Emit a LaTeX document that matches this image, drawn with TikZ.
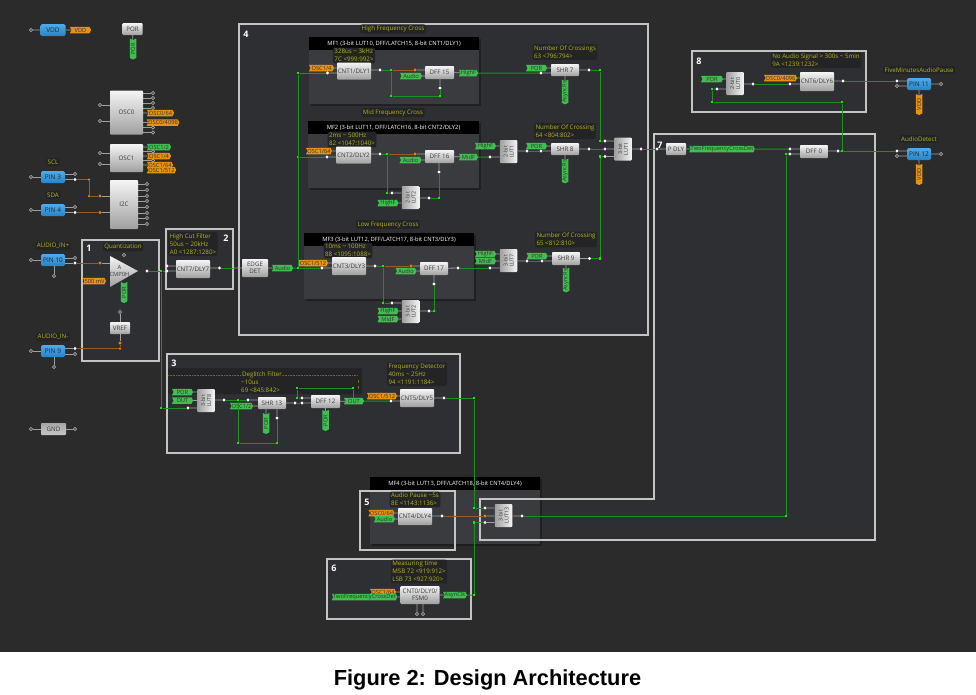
\documentclass[tikz,border=0pt]{standalone}
\usepackage{fontspec}
\setmainfont{Liberation Sans}
\newfontfamily\uifont{Open Sans}
\usetikzlibrary{shapes.symbols}
\definecolor{canvas}{HTML}{2B2B2C}
\definecolor{framefill}{HTML}{2E2F33}
\definecolor{framedraw}{HTML}{C4C4C4}
\definecolor{blockfill}{HTML}{3A3B3F}
\definecolor{notefill}{HTML}{242426}
\definecolor{notetext}{HTML}{B4B41E}
\definecolor{wiregreen}{HTML}{1A931A}
\definecolor{dotgreen}{HTML}{19E619}
\definecolor{wireorange}{HTML}{9A5A20}
\definecolor{dotorange}{HTML}{F08000}
\definecolor{taggreen}{HTML}{3FBF4F}
\definecolor{tagorange}{HTML}{E8920F}
\definecolor{pinblue}{HTML}{2E9BEA}
\definecolor{celltext}{HTML}{3C3C3C}

\begin{document}
\begin{tikzpicture}[x=1pt,y=-1pt]

    \tikzstyle{cell}+=[
        rectangle,
        rounded corners=0.8pt,
        top color=white!92!gray,
        bottom color=gray!75,
        text=celltext,
        font=\uifont\fontsize{6.2}{7}\selectfont,
        align=center,
        inner sep=0pt
    ]
    \tikzstyle{lutbox}+=[
        rectangle,
        rounded corners=0.8pt,
        right color=white!92!gray,
        left color=gray!75,
        text=celltext,
        font=\uifont\fontsize{5.4}{6}\selectfont,
        align=center,
        inner sep=0pt,
        rotate=90,
        minimum width=23,
        minimum height=17.5
    ]
    \tikzstyle{pinbox}+=[
        rectangle,
        rounded corners=1.5pt,
        top color=pinblue!85!white,
        bottom color=pinblue!85!black,
        text=black!85,
        font=\uifont\fontsize{6.5}{7}\selectfont,
        inner sep=0pt,
        minimum width=24,
        minimum height=12
    ]
    \tikzstyle{gtag}+=[
        signal,
        signal from=west,
        signal to=east,
        signal pointer angle=130,
        fill=taggreen,
        text=black!80,
        font=\uifont\fontsize{5.7}{6}\selectfont,
        inner sep=0pt,
        minimum height=6.5
    ]
    \tikzstyle{otag}+=[
        gtag,
        fill=tagorange
    ]
    \tikzstyle{vgtag}+=[
        gtag,
        signal from=east,
        signal to=west,
        rotate=90
    ]
    \tikzstyle{votag}+=[
        vgtag,
        fill=tagorange
    ]
    \tikzstyle{port}+=[
        circle,
        fill=white,
        inner sep=0pt,
        minimum size=3.2
    ]
    \tikzstyle{hport}+=[
        circle,
        draw=gray!70!white,
        line width=0.7pt,
        fill=canvas,
        inner sep=0pt,
        minimum size=3.2
    ]
    \tikzstyle{greendot}+=[
        rectangle,
        fill=dotgreen,
        inner sep=0pt,
        minimum size=2.6
    ]
    \tikzstyle{orangedot}+=[
        circle,
        fill=dotorange,
        inner sep=0pt,
        minimum size=3.2
    ]
    \tikzstyle{notebox}+=[
        rectangle,
        rounded corners=2pt,
        fill=notefill,
        text=notetext,
        font=\uifont\fontsize{6.2}{8}\selectfont,
        align=left,
        inner sep=1.5pt
    ]
    \tikzstyle{wire}+=[
        draw=wiregreen,
        line width=1pt
    ]
    \tikzstyle{owire}+=[
        draw=wireorange,
        line width=1pt
    ]
    \tikzstyle{stub}+=[
        draw=gray!75,
        line width=0.8pt
    ]
    \tikzstyle{framebox}+=[
        draw=framedraw,
        line width=1.4pt
    ]
    \tikzstyle{framenum}+=[
        text=white,
        font=\uifont\bfseries\fontsize{9}{10}\selectfont,
        inner sep=0pt
    ]
    \tikzstyle{block}+=[
        fill=blockfill
    ]
    \tikzstyle{blockshade}+=[
        fill=black,
        opacity=0.3
    ]
    \tikzstyle{blockhead}+=[
        rectangle,
        fill=black,
        text=white!80,
        font=\uifont\fontsize{5.8}{7}\selectfont,
        inner sep=0pt,
        minimum height=13
    ]

    % ----------------------------------------------------------------------------
    \path[fill=white] (0,0) rectangle (976,694);
    \path[fill=canvas] (0,0) rectangle (976,652);
    \node[font=\bfseries\fontsize{21.8}{26}\selectfont,text=black] (caption) at (487.5,680) {Figure 2: Design Architecture};

    % ----------------------------------------------------------------------------
    \path[fill=framefill] (82,240) rectangle (159,361);
    \path[fill=framefill] (166,229) rectangle (233,289);
    \path[fill=framefill] (167,354) rectangle (460,453);
    \path[fill=framefill] (239,24) rectangle (648,335);
    \path[fill=framefill] (327,559) rectangle (471,619);
    \path[fill=framefill] (692,51) rectangle (866,112);
    \path[fill=framefill] (654,134) -- (875,134) -- (875,540) -- (480,540) -- (480,499) -- (654,499) -- cycle;

    % ----------------------------------------------------------------------------
    \path[blockshade] (311,39) rectangle (481,106);
    \path[blockshade] (310,123) rectangle (481,190);
    \path[blockshade] (306,235) rectangle (476,301);
    \path[blockshade] (372,479) rectangle (542,546);
    \path[block] (309,37) rectangle (479,104);
    \path[block] (308,121) rectangle (479,188);
    \path[block] (304,233) rectangle (474,299);
    \path[block] (370,477) rectangle (540,544);
    \node[blockhead,minimum width=170] (headmfone) at (394,43.5) {MF1 (3-bit LUT10, DFF/LATCH15, 8-bit CNT1/DLY1)};
    \node[blockhead,minimum width=171] (headmftwo) at (393.5,127.5) {MF2 (3-bit LUT11, DFF/LATCH16, 8-bit CNT2/DLY2)};
    \node[blockhead,minimum width=170] (headmfthree) at (389,239.5) {MF3 (3-bit LUT12, DFF/LATCH17, 8-bit CNT3/DLY3)};
    \node[blockhead,minimum width=170] (headmffour) at (455,483.5) {MF4 (3-bit LUT13, DFF/LATCH18, 8-bit CNT4/DLY4)};

    % ----------------------------------------------------------------------------
    \draw[framebox] (82,240) rectangle (159,361);
    \draw[framebox] (166,229) rectangle (233,289);
    \draw[framebox] (167,354) rectangle (460,453);
    \draw[framebox] (239,24) rectangle (648,335);
    \draw[framebox] (360,491) rectangle (455,550);
    \draw[framebox] (327,559) rectangle (471,619);
    \draw[framebox] (692,51) rectangle (866,112);
    \draw[framebox] (654,134) -- (875,134) -- (875,540) -- (480,540) -- (480,499) -- (654,499) -- cycle;
    \node[framenum] (numone) at (89,248.5) {1};
    \node[framenum] (numtwo) at (226,238.5) {2};
    \node[framenum] (numthree) at (174,363.5) {3};
    \node[framenum] (numfour) at (246,34.5) {4};
    \node[framenum] (numfive) at (367,502) {5};
    \node[framenum] (numsix) at (334,568.5) {6};
    \node[framenum] (numseven) at (660,145) {7};
    \node[framenum] (numeight) at (699,61.5) {8};

    % ----------------------------------------------------------------------------
    \node[notebox] (notescl) at (53,162) {SCL};
    \node[notebox] (notesda) at (53,195) {SDA};
    \node[notebox] (noteinp) at (53,246) {AUDIO\_IN+};
    \node[notebox] (noteinm) at (53,337) {AUDIO\_IN-};
    \node[notebox] (notequant) at (123,247) {Quantization};
    \node[notebox] (notecut) at (193,244) {High Cut Filter\\50us \textasciitilde{} 20kHz\\A0 <1287:1280>};
    \node[notebox] (notehigh) at (393,29) {High Frequency Cross};
    \node[notebox] (notemid) at (393,112.5) {Mid Frequency Cross};
    \node[notebox] (notelow) at (388,224.5) {Low Frequency Cross};
    \node[notebox] (notemfone) at (354,55.5) {328us \textasciitilde{} 3kHz\\7C <999:992>};
    \node[notebox] (notemftwo) at (352,139.5) {2ms \textasciitilde{} 500Hz\\82 <1047:1040>};
    \node[notebox] (notemfthree) at (348,250.5) {10ms \textasciitilde{} 100Hz\\88 <1095:1088>};
    \node[notebox] (noteshrseven) at (565,52) {Number Of Crossings\\63 <796:794>};
    \node[notebox] (noteshreight) at (565,131) {Number Of Crossing\\64 <804:802>};
    \node[notebox] (noteshrnine) at (566,239.5) {Number Of Crossing\\65 <812:810>};
    \node[notebox] (noteeight) at (816,60) {No Audio Signal > 300s \textasciitilde{} 5min\\9A <1239:1232>};
    \node[notebox] (notefive) at (415,499.5) {Audio Pause \textasciitilde{}5s\\8E <1143:1136>};
    \node[notebox] (notesix) at (419,571.5) {Measuring time\\MSB 72 <919:912>\\LSB 73 <927:920>};
    \node[notebox] (notefreq) at (417,374) {Frequency Detector\\40ms \textasciitilde{} 25Hz\\94 <1191:1184>};
    \node[notebox] (notepause) at (919,70) {FiveMinutesAudioPause};
    \node[notebox] (noteaudio) at (919,139) {AudioDetect};
    \node[notebox,minimum width=194,minimum height=26] (notedeglitch) at (265,381) {};
    \draw[dashed,dash pattern=on 1pt off 0.6pt,notetext!60!black,line width=0.9pt] (168,375) -- (358,375);
    \draw[dashed,notetext!60!black,line width=0.9pt] (358,380) -- (358,392);
    \node[notebox,inner sep=0.5pt] (titledeglitch) at (262,374.5) {Deglitch Filter};
    \node[notebox,fill=none,anchor=north west] (textdeglitch) at (239.5,378) {\textasciitilde{}10us\\69 <845:842>};

    % ----------------------------------------------------------------------------
    \node[pinbox,minimum width=25] (pinvdd) at (53,30) {VDD};
    \node[hport] (vddin) at (31,30) {};
    \node[otag,minimum width=21] (tagvdd) at (80.5,30) {VDD};
    \draw[stub] (vddin) -- (pinvdd) (pinvdd) -- (tagvdd);
    \node[cell,minimum width=20,minimum height=12] (por) at (132.5,29) {POR};
    \node[vgtag,minimum width=21] (tagpor) at (133,49) {POR};
    \draw[stub] (por) -- (tagpor);

    \node[cell,minimum width=33,minimum height=44] (oscz) at (126.5,112.5) {OSC0};
    \node[hport] (osczina) at (100,105) {};
    \node[hport] (osczinb) at (100,121) {};
    \node[hport] (oscza) at (153,93) {};
    \node[hport] (osczb) at (153,98) {};
    \node[hport] (osczc) at (153,103) {};
    \node[hport] (osczd) at (153,108) {};
    \node[hport] (oscze) at (153,127.5) {};
    \node[hport] (osczf) at (153,132.5) {};
    \node[otag,minimum width=27] (tagoscza) at (160.5,113) {OSC0/64};
    \node[otag,minimum width=32] (tagosczb) at (163,122.5) {OSC0/4096};
    \draw[stub] (osczina) -- (osczina -| oscz.west) (osczinb) -- (osczinb -| oscz.west);
    \draw[stub] (oscza) -- (oscza -| oscz.east) (osczb) -- (osczb -| oscz.east) (osczc) -- (osczc -| oscz.east) (osczd) -- (osczd -| oscz.east) (oscze) -- (oscze -| oscz.east) (osczf) -- (osczf -| oscz.east);
    \draw[stub] (tagoscza) -- (tagoscza -| oscz.east) (tagosczb) -- (tagosczb -| oscz.east);

    \node[cell,minimum width=33,minimum height=28] (oscone) at (126.5,158) {OSC1};
    \node[hport] (osconeina) at (100,153) {};
    \node[hport] (osconeinb) at (100,164) {};
    \node[hport] (osconea) at (153,151.5) {};
    \node[hport] (osconeb) at (153,160.5) {};
    \node[gtag,minimum width=24] (tagosconea) at (159,147) {OSC1/2};
    \node[otag,minimum width=24] (tagosconeb) at (159,156) {OSC1/4};
    \node[otag,minimum width=26] (tagosconec) at (160,165) {OSC1/64};
    \node[otag,minimum width=29] (tagoscone) at (161.5,170) {OSC1/512};
    \draw[stub] (osconeina) -- (osconeina -| oscone.west) (osconeinb) -- (osconeinb -| oscone.west);
    \draw[stub] (osconea) -- (osconea -| oscone.east) (osconeb) -- (osconeb -| oscone.east);
    \draw[stub] (tagosconea) -- (tagosconea -| oscone.east) (tagosconeb) -- (tagosconeb -| oscone.east) (tagosconec) -- (tagosconec -| oscone.east);

    \node[cell,minimum width=28,minimum height=49] (itwoc) at (124,204.5) {I2C};
    \node[hport] (itwoca) at (147,184) {};
    \node[hport] (itwocb) at (147,190) {};
    \node[hport] (itwocc) at (147,196) {};
    \node[hport] (itwocd) at (147,201) {};
    \node[hport] (itwoce) at (147,207) {};
    \node[hport] (itwocf) at (147,213) {};
    \node[hport] (itwocg) at (147,218) {};
    \node[hport] (itwoch) at (147,224) {};
    \draw[stub] (itwoca) -- (itwoca -| itwoc.east) (itwocb) -- (itwocb -| itwoc.east) (itwocc) -- (itwocc -| itwoc.east) (itwocd) -- (itwocd -| itwoc.east) (itwoce) -- (itwoce -| itwoc.east) (itwocf) -- (itwocf -| itwoc.east) (itwocg) -- (itwocg -| itwoc.east) (itwoch) -- (itwoch -| itwoc.east);

    % ----------------------------------------------------------------------------
    \node[pinbox] (pinthree) at (53,177) {PIN 3};
    \node[hport] (pinthreein) at (31,177) {};
    \node[hport] (pinthreeup) at (75,174) {};
    \node[port] (pinthreeout) at (75,179.5) {};
    \node[orangedot,minimum size=2.5] (sclknee) at (89,179.5) {};
    \node[orangedot,minimum size=2.5] (sclbot) at (89,196) {};
    \node[orangedot] (sclend) at (100,196) {};
    \draw[stub] (pinthreein) -- (pinthree) (pinthreeup) -- (pinthreeup -| pinthree.east) (pinthreeout) -- (pinthreeout -| pinthree.east) (sclend) -- (sclend -| itwoc.west);
    \draw[owire] (pinthreeout) -- (sclknee) -- (sclbot) -- (sclend);
    \node[pinbox] (pinfour) at (53,210) {PIN 4};
    \node[hport] (pinfourin) at (31,210) {};
    \node[hport] (pinfourup) at (75,207) {};
    \node[port] (pinfourout) at (75,212.5) {};
    \node[orangedot] (sdaend) at (100,212.5) {};
    \draw[stub] (pinfourin) -- (pinfour) (pinfourup) -- (pinfourup -| pinfour.east) (pinfourout) -- (pinfourout -| pinfour.east) (sdaend) -- (sdaend -| itwoc.west);
    \draw[owire] (pinfourout) -- (sdaend);

    % ----------------------------------------------------------------------------
    \node[pinbox] (pinten) at (53,260) {PIN 10};
    \node[hport] (pintenin) at (31,260) {};
    \node[hport] (pintenup) at (75,258) {};
    \node[port] (pintenout) at (75,263) {};
    \node[hport] (pintendown) at (54,276) {};
    \node[orangedot] (cmpin) at (100,263) {};
    \coordinate (cmpleft) at (110,263);
    \draw[top color=white!92!gray,bottom color=gray!75,draw=none] (110,256) -- (138,271) -- (110,287) -- cycle;
    \node[cell,top color=white,bottom color=white,fill=none,shade=false,font=\uifont\fontsize{5.8}{6.6}\selectfont] (cmp) at (119.5,271) {A\\CMP0H};
    \node[hport] (cmpup) at (124,255) {};
    \node[port] (cmpout) at (147,271) {};
    \node[otag,minimum width=23] (tagcmp) at (94.5,281) {500 mV};
    \node[vgtag,minimum width=21] (tagcmppor) at (124,292.5) {POR};
    \node[cell,minimum width=20,minimum height=12] (vref) at (120,328) {VREF};
    \node[hport] (vrefup) at (120,312) {};
    \node[orangedot] (vrefdown) at (120,343) {};
    \node[orangedot,minimum size=2.5] (vrefbot) at (120,348.5) {};
    \node[pinbox] (pinnine) at (53,351) {PIN 9};
    \node[hport] (pinninein) at (31,351) {};
    \node[port] (pinnineout) at (75,348.5) {};
    \node[hport] (pinninedn) at (75,354) {};
    \node[hport] (pinninedown) at (54,367) {};
    \node[cell,minimum width=25,minimum height=12,top color=gray!70,bottom color=gray!45] (gnd) at (53.5,429) {GND};
    \node[hport] (gndin) at (31,429) {};
    \node[hport] (gndout) at (75,429) {};
    \draw[stub] (pintenin) -- (pinten) (pintenup) -- (pintenup -| pinten.east) (pintenout) -- (pintenout -| pinten.east) (pintendown) -- (pintendown |- pinten.south);
    \draw[stub] (pinninein) -- (pinnine) (pinnineout) -- (pinnineout -| pinnine.east) (pinninedn) -- (pinninedn -| pinnine.east) (pinninedown) -- (pinninedown |- pinnine.south);
    \draw[stub] (gndin) -- (gnd) (gnd) -- (gndout);
    \draw[stub] (cmpin) -- (cmpleft) (vrefup) -- (vref) (vref) -- (vrefdown);
    \draw[owire] (pintenout) -- (cmpin);
    \draw[owire] (pinnineout) -- (vrefbot) -- (vrefdown);

    % ----------------------------------------------------------------------------
    \node[cell,minimum width=34,minimum height=18] (cntseven) at (193,269) {CNT7/DLY7};
    \node[port] (cntsevenina) at (167,266) {};
    \node[port] (cntseveninb) at (167,271) {};
    \node[port] (cntsevenout) at (219.5,268) {};
    \node[greendot] (cmpknee) at (161,271) {};
    \coordinate (edgestart) at (233,268);
    \node[cell,minimum width=26,minimum height=18] (edge) at (255,268) {EDGE\\DET};
    \node[gtag,minimum width=21] (tagaudio) at (282.5,268) {Audio};
    \node[greendot] (audionode) at (298,268) {};
    \draw[stub] (cntsevenina) -- (cntsevenina -| cntseven.west) (cntseveninb) -- (cntseveninb -| cntseven.west) (cntsevenout) -- (cntsevenout -| cntseven.east) (edgestart) -- (edge) (edge) -- (tagaudio);
    \draw[wire] (cmpout) -- (cmpknee) -- (cntseveninb);
    \draw[wire] (cntsevenout) -- (edgestart);
    \draw[wire] (tagaudio) -- (audionode);

    % ----------------------------------------------------------------------------
    \node[cell,minimum width=34,minimum height=17] (cntone) at (354,71) {CNT1/DLY1};
    \node[otag,minimum width=25] (tagcntone) at (321.5,68) {OSC1/4};
    \node[port] (cntonein) at (327.5,73) {};
    \node[greendot] (cntonenode) at (298,73) {};
    \node[port] (cntoneout) at (380,70) {};
    \node[greendot] (cntoneknee) at (391,70) {};
    \node[orangedot] (dffonein) at (415,70) {};
    \node[gtag,minimum width=22] (tagdffone) at (411,76) {Audio};
    \node[cell,minimum width=29,minimum height=13] (dffone) at (439.5,72.5) {DFF 15};
    \node[port] (dffonedown) at (440,88) {};
    \node[greendot] (dffoneleft) at (391,96) {};
    \node[greendot] (dffoneright) at (440,96) {};
    \node[gtag,minimum width=19] (taghighf) at (468.5,73) {HighF};
    \node[port] (shrsevenin) at (541,73) {};
    \node[gtag,minimum width=21] (tagshrseven) at (536.5,68) {POR};
    \node[cell,minimum width=28,minimum height=12] (shrseven) at (565,70) {SHR 7};
    \node[vgtag,minimum width=23] (asyncseven) at (565,92) {AsyncRs};
    \node[port] (shrsevenout) at (589,70) {};
    \node[greendot] (shrsevenknee) at (600,70) {};
    \draw[stub] (cntonein) -- (cntonein -| cntone.west) (tagcntone) -- (tagcntone -| cntone.west) (cntoneout) -- (cntoneout -| cntone.east) (dffonein) -- (dffonein -| dffone.west) (tagdffone) -- (tagdffone -| dffone.west) (dffonedown) -- (dffonedown |- dffone.south) (dffone) -- (taghighf) (shrsevenin) -- (shrsevenin -| shrseven.west) (tagshrseven) -- (tagshrseven -| shrseven.west) (shrseven) -- (asyncseven) (shrsevenout) -- (shrsevenout -| shrseven.east);
    \draw[wire] (cntonenode) -- (cntonein);
    \draw[wire] (cntoneout) -- (cntoneknee);
    \draw[owire] (cntoneknee) -- (dffonein);
    \draw[wire] (cntoneknee) -- (dffoneleft) -- (dffoneright) -- (dffonedown);
    \draw[wire] (taghighf) -- (shrsevenin);
    \draw[wire] (shrsevenout) -- (shrsevenknee);

    % ----------------------------------------------------------------------------
    \node[cell,minimum width=35,minimum height=17] (cnttwo) at (353.5,155) {CNT2/DLY2};
    \node[otag,minimum width=26] (tagcnttwo) at (319,151) {OSC1/64};
    \node[port] (cnttwoin) at (327,157) {};
    \node[greendot] (cnttwonode) at (298,157) {};
    \node[port] (cnttwoout) at (380,154) {};
    \node[greendot] (cnttwoknee) at (387,154) {};
    \node[orangedot] (dfftwoin) at (415,154) {};
    \node[gtag,minimum width=22] (tagdfftwo) at (410.5,160) {Audio};
    \node[cell,minimum width=29,minimum height=13] (dfftwo) at (439.5,156.5) {DFF 16};
    \node[port] (dfftwodown) at (439,172) {};
    \node[lutbox] (lutmid) at (410.5,197.5) {2-bit\\LUT2};
    \node[port] (lutmidin) at (392,193) {};
    \node[greendot] (lutmidknee) at (387,193) {};
    \node[gtag,minimum width=21] (taglutmid) at (388,203) {HighF};
    \node[port] (lutmidout) at (429,198) {};
    \node[greendot] (dfftwobot) at (439,198) {};
    \node[gtag,minimum width=19] (tagmidf) at (468.5,157) {MidF};
    \node[port] (luteightin) at (490,157) {};
    \node[gtag,minimum width=21] (tagluteight) at (485.5,146) {HighF};
    \node[lutbox] (luteight) at (508.5,151.5) {2-bit\\LUT1};
    \node[port] (luteightout) at (527,151) {};
    \node[port] (shreightin) at (541,151) {};
    \node[gtag,minimum width=21] (tagshreight) at (536.5,146) {POR};
    \node[cell,minimum width=28,minimum height=12] (shreight) at (565,149) {SHR 8};
    \node[vgtag,minimum width=23] (asynceight) at (565,171) {AsyncRs};
    \node[port] (shreightout) at (589,149) {};
    \draw[stub] (cnttwoin) -- (cnttwoin -| cnttwo.west) (tagcnttwo) -- (tagcnttwo -| cnttwo.west) (cnttwoout) -- (cnttwoout -| cnttwo.east) (dfftwoin) -- (dfftwoin -| dfftwo.west) (tagdfftwo) -- (tagdfftwo -| dfftwo.west) (dfftwodown) -- (dfftwodown |- dfftwo.south) (dfftwo) -- (tagmidf);
    \draw[stub] (lutmidin) -- (lutmidin -| lutmid.north) (taglutmid) -- (taglutmid -| lutmid.north) (lutmidout) -- (lutmidout -| lutmid.south);
    \draw[stub] (luteightin) -- (luteightin -| luteight.north) (tagluteight) -- (tagluteight -| luteight.north) (luteightout) -- (luteightout -| luteight.south) (shreightin) -- (shreightin -| shreight.west) (tagshreight) -- (tagshreight -| shreight.west) (shreight) -- (asynceight) (shreightout) -- (shreightout -| shreight.east);
    \draw[wire] (cnttwonode) -- (cnttwoin);
    \draw[wire] (cnttwoout) -- (cnttwoknee);
    \draw[owire] (cnttwoknee) -- (dfftwoin);
    \draw[wire] (cnttwoknee) -- (lutmidknee) -- (lutmidin);
    \draw[wire] (dfftwodown) -- (dfftwobot) -- (lutmidout);
    \draw[wire] (tagmidf) -- (luteightin);
    \draw[wire] (luteightout) -- (shreightin);

    % ----------------------------------------------------------------------------
    \node[cell,minimum width=34,minimum height=18] (cntthree) at (349,266) {CNT3/DLY3};
    \node[otag,minimum width=30] (tagcntthree) at (313,263) {OSC1/512};
    \node[port] (cntthreein) at (322,268) {};
    \node[port] (cntthreeout) at (375,266) {};
    \node[greendot] (cntthreeknee) at (383,266) {};
    \node[orangedot] (dffthreein) at (411,266) {};
    \node[gtag,minimum width=21] (tagdffthree) at (406,271) {Audio};
    \node[cell,minimum width=28,minimum height=13] (dffthree) at (434,268.5) {DFF 17};
    \node[port] (dffthreeout) at (458,268) {};
    \node[port] (dffthreedown) at (434,284) {};
    \node[lutbox] (lutlow) at (410.5,311.5) {3-bit\\LUT2};
    \node[port] (lutlowin) at (392,303) {};
    \node[greendot] (lutlowknee) at (383,303) {};
    \node[gtag,minimum width=21] (taglowhigh) at (388,311) {HighF};
    \node[gtag,minimum width=21] (taglowmid) at (388,319) {MidF};
    \node[port] (lutlowout) at (429,311) {};
    \node[greendot] (dffthreebot) at (434,311) {};
    \node[port] (lutninein) at (490,268) {};
    \node[gtag,minimum width=21] (tagninehigh) at (485.5,254) {HighF};
    \node[gtag,minimum width=21] (tagninemid) at (485.5,261) {MidF};
    \node[lutbox] (lutnine) at (508.5,260.5) {3-bit\\LUT7};
    \node[port] (lutnineout) at (527,261) {};
    \node[port] (shrninein) at (542,261) {};
    \node[gtag,minimum width=21] (tagshrnine) at (537,256) {POR};
    \node[cell,minimum width=28,minimum height=13] (shrnine) at (566,258.5) {SHR 9};
    \node[vgtag,minimum width=23] (asyncnine) at (566,280) {AsyncRs};
    \node[port] (shrnineout) at (589.5,258.5) {};
    \node[greendot] (shrnineknee) at (600,258.5) {};
    \draw[stub] (cntthreein) -- (cntthreein -| cntthree.west) (tagcntthree) -- (tagcntthree -| cntthree.west) (cntthreeout) -- (cntthreeout -| cntthree.east) (dffthreein) -- (dffthreein -| dffthree.west) (tagdffthree) -- (tagdffthree -| dffthree.west) (dffthree) -- (dffthreeout) (dffthreedown) -- (dffthreedown |- dffthree.south);
    \draw[stub] (lutlowin) -- (lutlowin -| lutlow.north) (taglowhigh) -- (taglowhigh -| lutlow.north) (taglowmid) -- (taglowmid -| lutlow.north) (lutlowout) -- (lutlowout -| lutlow.south);
    \draw[stub] (lutninein) -- (lutninein -| lutnine.north) (tagninehigh) -- (tagninehigh -| lutnine.north) (tagninemid) -- (tagninemid -| lutnine.north) (lutnineout) -- (lutnineout -| lutnine.south) (shrninein) -- (shrninein -| shrnine.west) (tagshrnine) -- (tagshrnine -| shrnine.west) (shrnine) -- (asyncnine) (shrnineout) -- (shrnineout -| shrnine.east);
    \draw[wire] (cntonenode) -- (audionode) -- (cntthreein);
    \draw[wire] (cntthreeout) -- (cntthreeknee);
    \draw[owire] (cntthreeknee) -- (dffthreein);
    \draw[wire] (cntthreeknee) -- (lutlowknee) -- (lutlowin);
    \draw[wire] (dffthreedown) -- (dffthreebot) -- (lutlowout);
    \draw[wire] (dffthreeout) -- (lutninein);
    \draw[wire] (lutnineout) -- (shrninein);
    \draw[wire] (shrnineout) -- (shrnineknee);

    % ----------------------------------------------------------------------------
    \node[lutbox] (lutone) at (623,149) {3-bit\\LUT1};
    \node[port] (lutonea) at (605,141) {};
    \node[port] (lutoneb) at (605,149) {};
    \node[port] (lutonec) at (605,156.5) {};
    \node[greendot] (lutoneaknee) at (600,141) {};
    \node[greendot] (lutonecknee) at (600,156.5) {};
    \node[port] (lutoneout) at (641,149) {};
    \node[port] (pdlyin) at (657,149) {};
    \node[cell,minimum width=20,minimum height=12] (pdly) at (676,149) {P DLY};
    \node[gtag,minimum width=64] (tagtwofreq) at (722,149) {TwoFrequencyCrossDet};
    \node[port] (dffzina) at (790,149) {};
    \node[port] (dffzinb) at (790,154) {};
    \node[greendot] (dffzknee) at (786,154) {};
    \node[cell,minimum width=28,minimum height=13] (dffz) at (814,151.5) {DFF 0};
    \node[port] (dffzout) at (838,151) {};
    \node[greendot] (dffznode) at (842,151) {};
    \node[port] (pintwelvein) at (897,151) {};
    \node[hport] (pintwelvedn) at (897,156) {};
    \node[pinbox] (pintwelve) at (919,154) {PIN 12};
    \node[hport] (pintwelveout) at (941,154) {};
    \node[votag,minimum width=21] (tagvddtwelve) at (919,174.5) {VDD};
    \node[greendot] (lutthirteenknee) at (786,516) {};
    \draw[stub] (lutonea) -- (lutonea -| lutone.north) (lutoneb) -- (lutoneb -| lutone.north) (lutonec) -- (lutonec -| lutone.north) (lutoneout) -- (lutoneout -| lutone.south) (pdlyin) -- (pdly) (pdly) -- (tagtwofreq);
    \draw[stub] (dffzina) -- (dffzina -| dffz.west) (dffzinb) -- (dffzinb -| dffz.west) (dffzout) -- (dffzout -| dffz.east) (pintwelvein) -- (pintwelvein -| pintwelve.west) (pintwelvedn) -- (pintwelvedn -| pintwelve.west) (pintwelve) -- (pintwelveout) (pintwelve) -- (tagvddtwelve);
    \draw[wire] (shrsevenknee) -- (lutoneaknee) -- (lutonea);
    \draw[wire] (shreightout) -- (lutoneb);
    \draw[wire] (shrnineknee) -- (lutonecknee) -- (lutonec);
    \draw[wire] (lutoneout) -- (pdlyin);
    \draw[wire] (tagtwofreq) -- (dffzina);
    \draw[wire] (dffzout) -- (dffznode) -- (pintwelvein);
    \draw[wire] (dffzknee) -- (dffzinb);
    \draw[wire] (dffzknee) -- (lutthirteenknee);

    % ----------------------------------------------------------------------------
    \node[gtag,minimum width=22] (tageightpor) at (712,79) {POR};
    \node[lutbox] (luteightz) at (735,83.5) {2-bit\\LUT0};
    \node[port] (luteightzin) at (717,89) {};
    \node[greendot] (luteightzknee) at (712,89) {};
    \node[greendot] (eightleft) at (712,102) {};
    \node[greendot] (eightright) at (842,102) {};
    \node[port] (luteightzout) at (753,84) {};
    \node[otag,minimum width=33] (tagcntsix) at (780.5,78) {OSC0/4096};
    \node[port] (cntsixin) at (790,84) {};
    \node[cell,minimum width=34,minimum height=19] (cntsix) at (817,81.5) {CNT6/DLY6};
    \node[port] (cntsixout) at (843,81) {};
    \node[port] (pinelevenin) at (897,81) {};
    \node[hport] (pinelevendn) at (897,86) {};
    \node[pinbox] (pineleven) at (919,84) {PIN 11};
    \node[hport] (pinelevenout) at (941,84) {};
    \node[votag,minimum width=21] (tagvddeleven) at (919,104.5) {VDD};
    \draw[stub] (tageightpor) -- (tageightpor -| luteightz.north) (luteightzin) -- (luteightzin -| luteightz.north) (luteightzout) -- (luteightzout -| luteightz.south) (cntsixin) -- (cntsixin -| cntsix.west) (tagcntsix) -- (tagcntsix -| cntsix.west) (cntsixout) -- (cntsixout -| cntsix.east);
    \draw[stub] (pinelevenin) -- (pinelevenin -| pineleven.west) (pinelevendn) -- (pinelevendn -| pineleven.west) (pineleven) -- (pinelevenout) (pineleven) -- (tagvddeleven);
    \draw[wire] (luteightzin) -- (luteightzknee) -- (eightleft) -- (eightright) -- (dffznode);
    \draw[wire] (luteightzout) -- (cntsixin);
    \draw[wire] (cntsixout) -- (pinelevenin);

    % ----------------------------------------------------------------------------
    \node[gtag,minimum width=21] (taglutthreepor) at (182.5,392) {POR};
    \node[gtag,minimum width=21] (taglutthreeout) at (182.5,400.5) {OUT};
    \node[lutbox] (lutdeg) at (206,400.5) {3-bit\\LUT8};
    \node[port] (lutdegin) at (188,408) {};
    \node[greendot] (cmpbot) at (161,408) {};
    \node[port] (lutdegout) at (224,400) {};
    \node[greendot] (degknee) at (238,400) {};
    \node[port] (shrdegin) at (248,400) {};
    \node[gtag,minimum width=23] (tagshrdeg) at (241.5,406) {OSC1/2};
    \node[cell,minimum width=28,minimum height=12] (shrdeg) at (272,403) {SHR 13};
    \node[vgtag,minimum width=21] (tagshrdegpor) at (266,423.5) {POR};
    \node[port] (shrdegdown) at (277,418) {};
    \node[greendot] (degleft) at (238,443) {};
    \node[greendot] (degright) at (277,443) {};
    \node[port] (shrdegout) at (295,403) {};
    \node[port] (dffdegina) at (302,398) {};
    \node[port] (dffdeginb) at (302,403) {};
    \node[greendot] (dffdegknee) at (297,398) {};
    \node[greendot] (dffdegup) at (297,388) {};
    \node[greendot] (dffdegtop) at (353,388) {};
    \node[cell,minimum width=29,minimum height=13] (dffdeg) at (325.5,401.5) {DFF 12};
    \node[vgtag,minimum width=21] (tagdffdegpor) at (325.5,420.5) {POR};
    \node[gtag,minimum width=20] (tagdegout) at (354,401) {OUT};
    \node[port] (cntfivein) at (391,401) {};
    \node[otag,minimum width=30] (tagcntfive) at (382,396) {OSC1/512};
    \node[cell,minimum width=34,minimum height=18] (cntfive) at (417,398) {CNT5/DLY5};
    \node[port] (cntfiveout) at (444,398) {};
    \node[greendot] (cntfivenode) at (474,398) {};
    \draw[stub] (taglutthreepor) -- (taglutthreepor -| lutdeg.north) (taglutthreeout) -- (taglutthreeout -| lutdeg.north) (lutdegin) -- (lutdegin -| lutdeg.north) (lutdegout) -- (lutdegout -| lutdeg.south);
    \draw[stub] (shrdegin) -- (shrdegin -| shrdeg.west) (tagshrdeg) -- (tagshrdeg -| shrdeg.west) (shrdegdown) -- (shrdegdown |- shrdeg.south) (shrdegout) -- (shrdegout -| shrdeg.east) (tagshrdegpor) -- (tagshrdegpor |- shrdeg.south);
    \draw[stub] (dffdegina) -- (dffdegina -| dffdeg.west) (dffdeginb) -- (dffdeginb -| dffdeg.west) (dffdeg) -- (tagdffdegpor) (dffdeg) -- (tagdegout) (cntfivein) -- (cntfivein -| cntfive.west) (tagcntfive) -- (tagcntfive -| cntfive.west) (cntfiveout) -- (cntfiveout -| cntfive.east);
    \draw[wire] (cmpknee) -- (cmpbot) -- (lutdegin);
    \draw[wire] (lutdegout) -- (degknee) -- (shrdegin);
    \draw[wire] (degknee) -- (degleft) -- (degright) -- (shrdegdown);
    \draw[wire] (shrdegout) -- (dffdeginb);
    \draw[wire] (dffdegina) -- (dffdegknee) -- (dffdegup) -- (dffdegtop) -- (tagdegout.north -| dffdegtop);
    \draw[wire] (tagdegout) -- (cntfivein);
    \draw[wire] (cntfiveout) -- (cntfivenode);

    % ----------------------------------------------------------------------------
    \node[cell,minimum width=34,minimum height=17] (cntfour) at (415,516.5) {CNT4/DLY4};
    \node[otag,minimum width=25] (tagcntfour) at (381.5,513) {OSC0/64};
    \node[gtag,minimum width=21] (tagcntfouraudio) at (384.5,519) {Audio};
    \node[port] (cntfourout) at (442,516) {};
    \node[orangedot] (lutthirteenb) at (485,516) {};
    \node[port] (lutthirteena) at (485,508) {};
    \node[port] (lutthirteenc) at (485,522.5) {};
    \node[greendot] (lutthirteenaknee) at (474,508) {};
    \node[greendot] (lutthirteencknee) at (474,522.5) {};
    \node[lutbox] (lutthirteen) at (503.5,515.5) {3-bit\\LUT13};
    \node[port] (lutthirteenout) at (522,516) {};
    \node[cell,minimum width=39,minimum height=18] (cntz) at (420,595) {CNT0/DLY0/\\FSM0};
    \node[otag,minimum width=26] (tagcntz) at (383,592) {OSC1/64};
    \node[gtag,minimum width=64] (tagcntztwo) at (364.5,597) {TwoFrequencyCrossDet};
    \node[gtag,minimum width=23] (tagasync) at (455,595) {AsynClk};
    \node[greendot] (asyncknee) at (474,595) {};
    \node[hport] (cntzdowna) at (417,614) {};
    \node[hport] (cntzdownb) at (423,614) {};
    \draw[stub] (tagcntfour) -- (tagcntfour -| cntfour.west) (tagcntfouraudio) -- (tagcntfouraudio -| cntfour.west) (cntfourout) -- (cntfourout -| cntfour.east) (lutthirteena) -- (lutthirteena -| lutthirteen.north) (lutthirteenb) -- (lutthirteenb -| lutthirteen.north) (lutthirteenc) -- (lutthirteenc -| lutthirteen.north) (lutthirteenout) -- (lutthirteenout -| lutthirteen.south);
    \draw[stub] (tagcntz) -- (tagcntz -| cntz.west) (tagcntztwo) -- (tagcntztwo -| cntz.west) (cntz) -- (tagasync) (cntzdowna) -- (cntzdowna |- cntz.south) (cntzdownb) -- (cntzdownb |- cntz.south);
    \draw[owire] (cntfourout) -- (lutthirteenb);
    \draw[wire] (cntfivenode) -- (lutthirteenaknee) -- (lutthirteena);
    \draw[wire] (asyncknee) -- (lutthirteencknee) -- (lutthirteenc);
    \draw[wire] (tagasync) -- (asyncknee);
    \draw[wire] (lutthirteenout) -- (lutthirteenknee);

\end{tikzpicture}
\end{document}
